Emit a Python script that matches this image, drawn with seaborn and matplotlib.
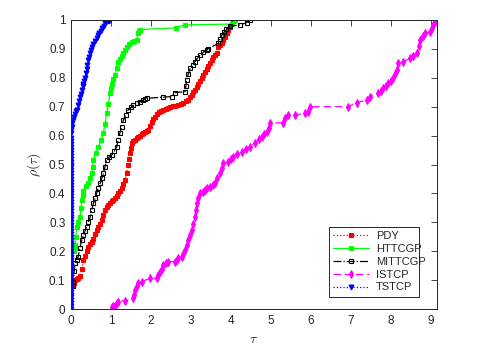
import numpy as np
import matplotlib
matplotlib.use("Agg")
import matplotlib.pyplot as plt
import seaborn as sns

# performance profile curves
pdy_tau = [0.06, 0.08, 0.10, 0.14, 0.18, 0.23, 0.27, 0.31, 0.35, 0.39, 0.43, 0.48, 0.52, 0.56, 0.60,
           0.64, 0.68, 0.72, 0.77, 0.81, 0.85, 0.89, 0.93, 0.98, 1.02, 1.06, 1.10, 1.14, 1.18, 1.22,
           1.27, 1.31, 1.35, 1.39, 1.43, 1.46, 1.48, 1.50, 1.52, 1.56, 1.60, 1.64, 1.68, 1.73, 1.77,
           1.81, 1.85, 1.89, 1.93, 1.98, 2.02, 2.06, 2.10, 2.14, 2.20, 2.25, 2.31, 2.37, 2.43, 2.48,
           2.55, 2.60, 2.67, 2.74, 2.81, 2.87, 2.93, 2.98, 3.02, 3.06, 3.10, 3.14, 3.18, 3.23, 3.27,
           3.31, 3.35, 3.39, 3.43, 3.48, 3.52, 3.56, 3.60, 3.64, 3.68, 3.72, 3.77, 3.81, 3.85, 3.89,
           3.93, 3.98, 4.02, 4.06, 4.10]
pdy_rho = [0.08, 0.09, 0.10, 0.103, 0.108, 0.115, 0.14, 0.17, 0.185, 0.20, 0.216, 0.225, 0.232, 0.242, 0.258,
           0.273, 0.285, 0.295, 0.308, 0.325, 0.343, 0.352, 0.36, 0.366, 0.372, 0.377, 0.385, 0.392, 0.40, 0.41,
           0.42, 0.432, 0.446, 0.472, 0.50, 0.52, 0.539, 0.556, 0.573, 0.58, 0.585, 0.59, 0.595, 0.60, 0.604,
           0.608, 0.612, 0.616, 0.619, 0.633, 0.648, 0.657, 0.666, 0.675, 0.68, 0.685, 0.689, 0.693, 0.697, 0.70,
           0.702, 0.703, 0.706, 0.709, 0.712, 0.718, 0.723, 0.735, 0.742, 0.75, 0.758, 0.768, 0.778, 0.79, 0.80,
           0.81, 0.82, 0.83, 0.84, 0.852, 0.862, 0.873, 0.879, 0.885, 0.905, 0.912, 0.919, 0.93, 0.942, 0.954,
           0.965, 0.977, 0.986, 0.995, 1.0]

httcgp_tau = [0.08, 0.09, 0.10, 0.12, 0.14, 0.18, 0.23, 0.25, 0.27, 0.29, 0.31, 0.37, 0.43, 0.48, 0.52,
              0.54, 0.56, 0.62, 0.68, 0.75, 0.81, 0.85, 0.89, 0.93, 0.98, 1.00, 1.02, 1.06, 1.10, 1.14,
              1.18, 1.22, 1.27, 1.31, 1.35, 1.39, 1.45, 1.52, 1.58, 1.64, 1.68, 1.71, 1.73, 2.63, 2.84,
              4.02, 4.10]
httcgp_rho = [0.20, 0.21, 0.221, 0.25, 0.285, 0.30, 0.32, 0.35, 0.377, 0.395, 0.41, 0.425, 0.435, 0.452, 0.47,
              0.49, 0.515, 0.54, 0.56, 0.585, 0.608, 0.64, 0.677, 0.71, 0.746, 0.765, 0.78, 0.795, 0.81, 0.835,
              0.855, 0.865, 0.875, 0.885, 0.897, 0.908, 0.918, 0.925, 0.928, 0.93, 0.954, 0.962, 0.967, 0.973, 0.983,
              0.986, 1.0]

mittcgp_tau = [0.04, 0.06, 0.08, 0.10, 0.14, 0.18, 0.22, 0.27, 0.31, 0.35, 0.39, 0.43, 0.48, 0.52, 0.56,
               0.60, 0.64, 0.68, 0.73, 0.77, 0.81, 0.85, 0.89, 0.95, 1.02, 1.08, 1.14, 1.18, 1.22, 1.27,
               1.31, 1.37, 1.43, 1.50, 1.56, 1.64, 1.73, 1.80, 1.85, 1.89, 2.31, 2.52, 2.60, 2.85, 2.87,
               2.89, 2.93, 2.98, 3.04, 3.10, 3.16, 3.23, 3.31, 3.39, 3.43, 3.68, 3.72, 3.77, 3.83, 3.88,
               3.98, 4.23, 4.39, 4.48]
mittcgp_rho = [0.08, 0.095, 0.13, 0.158, 0.17, 0.181, 0.21, 0.239, 0.255, 0.27, 0.285, 0.30, 0.319, 0.342, 0.366,
               0.383, 0.40, 0.418, 0.435, 0.452, 0.47, 0.492, 0.515, 0.525, 0.533, 0.545, 0.56, 0.585, 0.608, 0.63,
               0.654, 0.672, 0.689, 0.698, 0.706, 0.712, 0.717, 0.723, 0.727, 0.729, 0.733, 0.735, 0.749, 0.752, 0.77,
               0.792, 0.812, 0.833, 0.845, 0.856, 0.868, 0.879, 0.889, 0.895, 0.90, 0.919, 0.933, 0.948, 0.958, 0.968,
               0.979, 0.983, 0.991, 1.0]

istcp_tau = [1.02, 1.06, 1.10, 1.14, 1.18, 1.35, 1.56, 1.58, 1.60, 1.64, 1.68, 1.77, 1.98, 2.14, 2.18,
             2.23, 2.27, 2.31, 2.37, 2.43, 2.60, 2.64, 2.68, 2.77, 2.81, 2.85, 2.89, 2.93, 2.98, 3.02,
             3.06, 3.10, 3.12, 3.14, 3.18, 3.23, 3.29, 3.35, 3.41, 3.48, 3.54, 3.60, 3.66, 3.73, 3.77,
             3.81, 3.93, 4.00, 4.06, 4.16, 4.27, 4.37, 4.48, 4.60, 4.70, 4.77, 4.83, 4.89, 4.94, 4.98,
             5.31, 5.35, 5.43, 5.60, 5.85, 5.93, 5.98, 6.93, 7.14, 7.39, 7.48, 7.68, 7.75, 7.81, 7.87,
             7.93, 8.00, 8.06, 8.10, 8.14, 8.18, 8.31, 8.48, 8.56, 8.64, 8.69, 8.73, 8.79, 8.85, 8.98,
             9.02, 9.06, 9.10, 9.15]
istcp_rho = [0.008, 0.01, 0.012, 0.02, 0.025, 0.029, 0.037, 0.05, 0.066, 0.078, 0.089, 0.095, 0.106, 0.106, 0.118,
             0.129, 0.14, 0.152, 0.158, 0.164, 0.164, 0.17, 0.175, 0.181, 0.192, 0.204, 0.22, 0.239, 0.256, 0.273,
             0.295, 0.319, 0.342, 0.366, 0.385, 0.40, 0.406, 0.412, 0.418, 0.423, 0.429, 0.435, 0.452, 0.47, 0.487,
             0.504, 0.51, 0.518, 0.527, 0.535, 0.544, 0.553, 0.562, 0.575, 0.587, 0.596, 0.605, 0.614, 0.628, 0.643,
             0.645, 0.66, 0.671, 0.671, 0.677, 0.683, 0.70, 0.70, 0.714, 0.723, 0.735, 0.746, 0.755, 0.763, 0.772,
             0.781, 0.79, 0.798, 0.812, 0.827, 0.85, 0.856, 0.867, 0.876, 0.885, 0.91, 0.931, 0.943, 0.954, 0.96,
             0.972, 0.983, 0.992, 1.0]

tstcp_tau = [0.0, 0.0, 0.0, 0.0, 0.0, 0.0, 0.0, 0.0, 0.0, 0.0, 0.0, 0.0, 0.0, 0.0, 0.0, 0.0,
             0.0, 0.0, 0.0, 0.0, 0.0, 0.0, 0.0, 0.0, 0.0, 0.0, 0.0, 0.0, 0.0, 0.0, 0.0,
             0.0, 0.0, 0.0, 0.0, 0.0, 0.0, 0.0, 0.0, 0.0, 0.0, 0.0, 0.0, 0.0, 0.0, 0.0,
             0.0, 0.0, 0.0, 0.0, 0.0, 0.0, 0.0, 0.0, 0.0, 0.0, 0.0, 0.0, 0.0, 0.0, 0.0,
             0.01, 0.02, 0.03, 0.05, 0.07, 0.09, 0.12, 0.14, 0.17, 0.19, 0.22, 0.24, 0.27, 0.29,
             0.31, 0.33, 0.35, 0.37, 0.39, 0.41, 0.43, 0.46, 0.48, 0.50, 0.53, 0.56, 0.60, 0.64,
             0.68, 0.71, 0.75, 0.78, 0.82, 0.85, 0.88, 0.92, 0.95, 0.98]
tstcp_rho = [0.0, 0.01, 0.02, 0.03, 0.04, 0.05, 0.06, 0.07, 0.08, 0.09, 0.10, 0.11, 0.12, 0.13, 0.14, 0.15,
             0.16, 0.17, 0.18, 0.19, 0.20, 0.21, 0.22, 0.23, 0.24, 0.25, 0.26, 0.27, 0.28, 0.29, 0.30,
             0.31, 0.32, 0.33, 0.34, 0.35, 0.36, 0.37, 0.38, 0.39, 0.40, 0.41, 0.42, 0.43, 0.44, 0.45,
             0.46, 0.47, 0.48, 0.49, 0.50, 0.51, 0.52, 0.53, 0.54, 0.55, 0.56, 0.57, 0.58, 0.59, 0.61,
             0.62, 0.63, 0.645, 0.655, 0.665, 0.675, 0.685, 0.69, 0.705, 0.72, 0.735, 0.745, 0.758, 0.77,
             0.78, 0.79, 0.80, 0.815, 0.83, 0.845, 0.86, 0.872, 0.885, 0.895, 0.908, 0.918, 0.928, 0.938,
             0.948, 0.954, 0.963, 0.972, 0.98, 0.988, 0.992, 0.995, 0.998, 1.0]

sns.set_style("white")
plt.rcParams['font.family'] = ['Liberation Sans', 'DejaVu Sans']
plt.rcParams['mathtext.fontset'] = 'cm'

fig = plt.figure(figsize=(4.79, 3.57), dpi=100)
ax = fig.add_axes([71 / 479, 1 - 309 / 357, 366 / 479, 289 / 357])

series = [
    ("PDY", pdy_tau, pdy_rho, dict(color=(1, 0, 0), linestyle=':', marker='s', markersize=2.2,
                                   markerfacecolor=(1, 0, 0), markeredgecolor=(1, 0, 0))),
    ("HTTCGP", httcgp_tau, httcgp_rho, dict(color=(0, 1, 0), linestyle='-', marker='s', markersize=2.5,
                                            markerfacecolor=(0, 1, 0), markeredgecolor=(0, 1, 0))),
    ("MITTCGP", mittcgp_tau, mittcgp_rho, dict(color='k', linestyle='-.', marker='s', markersize=3.5,
                                               markerfacecolor='none', markeredgecolor='k')),
    ("ISTCP", istcp_tau, istcp_rho, dict(color=(1, 0, 1), linestyle=(0, (6, 3)), marker='d', markersize=4,
                                         markerfacecolor=(1, 0, 1), markeredgecolor=(1, 0, 1))),
    ("TSTCP", tstcp_tau, tstcp_rho, dict(color=(0, 0, 1), linestyle=':', marker='v', markersize=3.5,
                                         markerfacecolor=(0, 0, 1), markeredgecolor=(0, 0, 1))),
]

for name, tau, rho, style in series:
    sns.lineplot(x=tau, y=rho, ax=ax, sort=False, estimator=None, label=name,
                 linewidth=0.9, markeredgewidth=0.8, **style)

ax.set_xlim(0, 9.15)
ax.set_ylim(0, 1)
ax.set_xticks(range(0, 10))
ax.set_yticks(np.arange(0, 1.01, 0.1))
ax.set_yticklabels(['0', '0.1', '0.2', '0.3', '0.4', '0.5', '0.6', '0.7', '0.8', '0.9', '1'])
ax.tick_params(direction='in', top=True, right=True, length=4, width=0.6,
               labelsize=8.5, colors='#262626', pad=4)
for sp in ax.spines.values():
    sp.set_visible(True)
    sp.set_color('#262626')
    sp.set_linewidth(0.7)

ax.set_xlabel(r'$\tau$', fontsize=10, color='#262626', labelpad=4)
ax.set_ylabel(r'$\rho(\tau)$', fontsize=10, color='#262626', labelpad=4)

leg = ax.legend(loc='lower left', bbox_to_anchor=(0.705, 0.042, 0.246, 0.252), mode='expand',
                fontsize=8, frameon=True, fancybox=False, framealpha=1, borderaxespad=0,
                handlelength=3.2, handletextpad=0.6, labelspacing=0.25, borderpad=0.4)
leg.get_frame().set_edgecolor('#262626')
leg.get_frame().set_linewidth(0.7)

fig.savefig("out.png", dpi=100)
